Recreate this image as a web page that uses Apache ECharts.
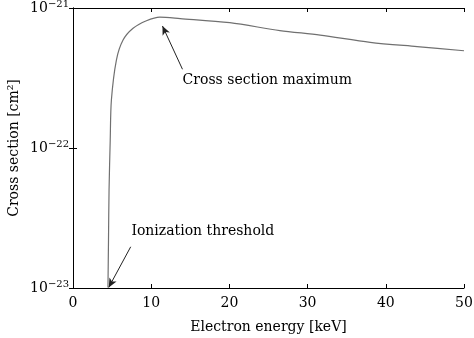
<!DOCTYPE html>
<html><head><meta charset="utf-8">
<script src="https://cdn.jsdelivr.net/npm/echarts@6/dist/echarts.min.js"></script>
<style>html,body{margin:0;padding:0;background:#fff}#c{width:474px;height:338px}</style>
</head><body><div id="c"></div>
<script>
const energy = [4.47, 4.54, 4.61, 4.76, 4.91, 5.55, 6.4, 7.68, 9.39, 11.1, 13.7, 20.05, 26.45, 31.6, 38.0, 44.0, 50.0];
const crossSection = [1.01e-23, 2.2e-23, 5.0e-23, 1.14e-22, 2.2e-22, 4.25e-22, 5.9e-22, 7.16e-22, 8.1e-22, 8.6e-22, 8.4e-22, 7.85e-22, 6.9e-22, 6.41e-22, 5.69e-22, 5.3e-22, 4.95e-22];
const xTicks = [0, 10, 20, 30, 40, 50];
const yTicks = [1e-23, 1e-22, 1e-21];

// Log-scale y axis: the library's value axis is fed log10 of the cross sections.
const lg = Math.log10;
const serif = '"DejaVu Serif", "Liberation Serif", serif';
const chart = echarts.init(document.getElementById('c'), null, {renderer: 'canvas'});
const supFmt = v => '{b|10}{s|\u2212' + Math.abs(Math.round(v)) + '}';
const axisLine = {show: true, lineStyle: {color: '#000', width: 1}};
const axisTick = {show: true, inside: true, length: 4, lineStyle: {color: '#000'}};
const yMin = lg(yTicks[0]), yMax = lg(yTicks[yTicks.length - 1]);
chart.setOption({
  animation: false,
  grid: {left: 73, right: 10, top: 8, bottom: 50, containLabel: false, outerBoundsMode: 'none'},
  xAxis: [
    {type: 'value', min: xTicks[0], max: xTicks[xTicks.length - 1], interval: 10,
      name: 'Electron energy [keV]', nameLocation: 'middle', nameGap: 32,
      nameTextStyle: {fontFamily: serif, fontSize: 14, color: '#000'},
      axisLine: axisLine, axisTick: axisTick, splitLine: {show: false},
      axisLabel: {fontFamily: serif, fontSize: 14, color: '#000', margin: 8}},
    {type: 'value', position: 'top', min: 0, max: 50, interval: 10,
      axisLine: axisLine, axisTick: axisTick, splitLine: {show: false},
      axisLabel: {show: false}}
  ],
  yAxis: [
    {type: 'value', min: yMin, max: yMax, interval: 1,
      name: 'Cross section [cm\u00b2]', nameLocation: 'middle', nameGap: 52, nameRotate: 90,
      nameMoveOverlap: false,
      nameTextStyle: {fontFamily: serif, fontSize: 14, color: '#000'},
      axisLine: axisLine, axisTick: axisTick, splitLine: {show: false},
      axisLabel: {formatter: supFmt, margin: 4, showMinLabel: true, showMaxLabel: true, hideOverlap: false,
        rich: {b: {fontFamily: serif, fontSize: 14, color: '#000'},
               s: {fontFamily: serif, fontSize: 10, color: '#000', verticalAlign: 'top', padding: [0, 0, 8, 0]}}}},
    {type: 'value', position: 'right', min: yMin, max: yMax, interval: 1,
      axisLine: axisLine, axisTick: axisTick, splitLine: {show: false},
      axisLabel: {show: false}}
  ],
  series: [{
    type: 'line',
    data: energy.map((x, i) => [x, lg(crossSection[i])]),
    smooth: 0.3,
    symbol: 'none',
    clip: true,
    lineStyle: {color: '#707070', width: 1.2},
    markLine: {
      silent: true,
      symbol: ['none', 'arrow'],
      symbolSize: [6, 9],
      itemStyle: {color: '#222'},
      lineStyle: {color: '#222', width: 1, type: 'solid'},
      label: {show: false},
      data: [
        [{coord: [7.38, lg(1.97e-23)]}, {coord: [4.57, lg(1.01e-23)]}],
        [{coord: [14.0, lg(3.65e-22)]}, {coord: [11.44, lg(7.44e-22)]}]
      ]
    },
    markPoint: {
      silent: true,
      symbol: 'circle',
      symbolSize: 1,
      itemStyle: {color: 'rgba(0,0,0,0)'},
      label: {show: true, position: 'inside', fontFamily: serif, fontSize: 14, color: '#000',
        formatter: p => p.name},
      data: [
        {name: 'Ionization threshold', coord: [16.6, lg(2.52e-23)]},
        {name: 'Cross section maximum', coord: [24.85, lg(3.06e-22)]}
      ]
    }
  }]
});
</script>
</body></html>
